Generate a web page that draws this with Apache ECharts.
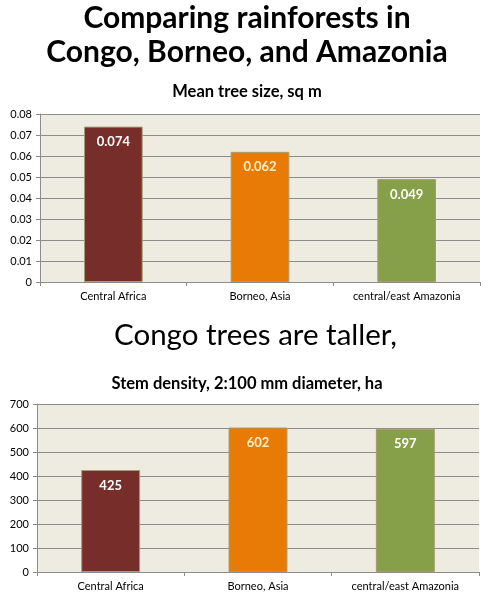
<!DOCTYPE html>
<html><head><meta charset="utf-8">
<script src="https://cdn.jsdelivr.net/npm/echarts@6/dist/echarts.min.js"></script>
<style>html,body{margin:0;padding:0;background:#fff}#c{width:494px;height:615px}</style>
</head><body><div id="c"></div>
<script>
var categories = ['Central Africa', 'Borneo, Asia', 'central/east Amazonia'];
var treeSize = [0.074, 0.062, 0.049];
var stemDensity = [425, 602, 597];
var sizeTicks = ['0', '0.01', '0.02', '0.03', '0.04', '0.05', '0.06', '0.07', '0.08'];
var barColors = ['#772D29', '#E87B06', '#86A04A'];
var labelColors = ['#FFFFFF', '#FFF0CC', '#FFFFFF'];

var FONT = 'Lato';
function mkData(vals) {
  return vals.map(function (v, i) {
    return { value: v, itemStyle: { color: barColors[i] },
      label: { color: labelColors[i] } };
  });
}
function xAxis(gi) {
  return {
    type: 'category', gridIndex: gi, data: categories,
    axisLine: { lineStyle: { color: '#8C8C8C' } },
    axisTick: { show: true, length: 4, lineStyle: { color: '#8C8C8C' } },
    axisLabel: { color: '#000', fontFamily: FONT, fontSize: 11, margin: 9 }
  };
}
function yAxis(gi, max, interval, fmt) {
  return {
    type: 'value', gridIndex: gi, min: 0, max: max, interval: interval,
    axisLine: { show: true, lineStyle: { color: '#8C8C8C' } },
    axisTick: { show: true, length: 4, lineStyle: { color: '#8C8C8C' } },
    splitLine: { lineStyle: { color: '#8C8C8C', width: 1 } },
    axisLabel: { color: '#000', fontFamily: FONT, fontSize: 11, margin: 8, formatter: fmt }
  };
}
var chart = echarts.init(document.getElementById('c'), null, { renderer: 'canvas' });
chart.setOption({
  animation: false,
  title: [
    { text: 'Comparing rainforests in', left: 'center', top: -2,
      textStyle: { fontFamily: FONT, fontWeight: 'bold', fontSize: 30, color: '#000' } },
    { text: 'Congo, Borneo, and Amazonia', left: 'center', top: 32,
      textStyle: { fontFamily: FONT, fontWeight: 'bold', fontSize: 30, color: '#000' } },
    { text: 'Mean tree size, sq m', left: 'center', top: 78,
      textStyle: { fontFamily: FONT, fontWeight: 'bold', fontSize: 16.5, color: '#000' } },
    { text: 'Congo trees are taller,', left: 109, top: 315,
      textStyle: { fontFamily: FONT, fontWeight: 'normal', fontSize: 29.5, color: '#000' } },
    { text: 'Stem density, 2:100 mm diameter, ha', left: 'center', top: 370,
      textStyle: { fontFamily: FONT, fontWeight: 'bold', fontSize: 16.5, color: '#000' } }
  ],
  grid: [
    { left: 40, right: 14, top: 114, height: 168, show: true, backgroundColor: '#EEECE1', borderWidth: 0 },
    { left: 37, right: 15, top: 404, height: 168, show: true, backgroundColor: '#EEECE1', borderWidth: 0 }
  ],
  xAxis: [xAxis(0), xAxis(1)],
  yAxis: [
    yAxis(0, 0.08, 0.01, function (v) { return sizeTicks[Math.round(v * 100)]; }),
    yAxis(1, 700, 100, null)
  ],
  series: [
    { type: 'bar', xAxisIndex: 0, yAxisIndex: 0, data: mkData(treeSize), barWidth: '40%',
      itemStyle: { borderColor: '#A89A70', borderWidth: 1 },
      label: { show: true, position: 'insideTop', distance: 9, fontFamily: FONT, fontWeight: 'bold', fontSize: 13 } },
    { type: 'bar', xAxisIndex: 1, yAxisIndex: 1, data: mkData(stemDensity), barWidth: '40%',
      itemStyle: { borderColor: '#A89A70', borderWidth: 1 },
      label: { show: true, position: 'insideTop', distance: 9, fontFamily: FONT, fontWeight: 'bold', fontSize: 13 } }
  ]
});
</script></body></html>
